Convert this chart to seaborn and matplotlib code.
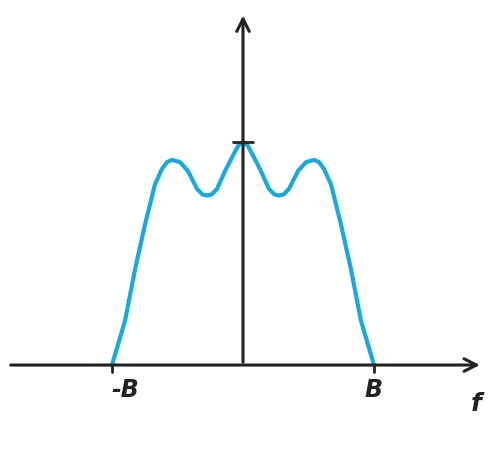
import numpy as np
import pandas as pd
import matplotlib
matplotlib.use("Agg")
import matplotlib.pyplot as plt
import seaborn as sns

# spectrum (f in units of B, amplitude normalised to the peak)
f_left = [-1.0, -0.90, -0.824, -0.748, -0.672, -0.618, -0.58, -0.542, -0.481, -0.42,
          -0.351, -0.31, -0.275, -0.24, -0.198, -0.137, -0.076, -0.035, 0.0]
amp_left = [0.0, 0.20, 0.43, 0.63, 0.81, 0.88, 0.91, 0.92, 0.91, 0.87,
            0.79, 0.765, 0.76, 0.765, 0.79, 0.87, 0.94, 0.985, 1.0]
f_vals = f_left + [-v for v in reversed(f_left[:-1])]
amp_vals = amp_left + list(reversed(amp_left[:-1]))
tick_labels = ["-B", "B"]
tick_pos = [-1.0, 1.0]

df = pd.DataFrame({"f": f_vals, "amp": amp_vals})

sns.set_style("white")
fig = plt.figure(figsize=(4.97, 4.5), dpi=100)
ax = fig.add_axes([0, 0, 1, 1])
ax.set_xlim(-1.855, 1.939)
ax.set_ylim(-0.381, 1.637)
ax.axis("off")

sns.lineplot(data=df, x="f", y="amp", ax=ax, color="#1ba8dc", lw=3,
             sort=False, legend=False, solid_joinstyle="round")

arrow = dict(arrowstyle="->,head_length=0.9,head_width=0.45", lw=2.2, color="#222222")
ax.annotate("", xy=(1.83, 0), xytext=(-1.794, 0), arrowprops=arrow)
ax.annotate("", xy=(0, 1.58), xytext=(0, 0), arrowprops=arrow)

# peak tick and band-edge ticks
ax.plot([-0.076, 0.076], [1.0, 1.0], color="#222222", lw=2)
for p, lab in zip(tick_pos, tick_labels):
    ax.plot([p, p], [0, -0.03], color="#222222", lw=2)
    ax.text(p + (0.1 if p < 0 else 0.0), -0.06, lab, ha="center", va="top",
            fontsize=17, fontweight="bold", fontstyle="italic", color="#222222")
ax.text(1.78, -0.12, "f", ha="center", va="top", fontsize=18,
        fontweight="bold", fontstyle="italic", color="#222222")

fig.savefig("out.png", dpi=100)
